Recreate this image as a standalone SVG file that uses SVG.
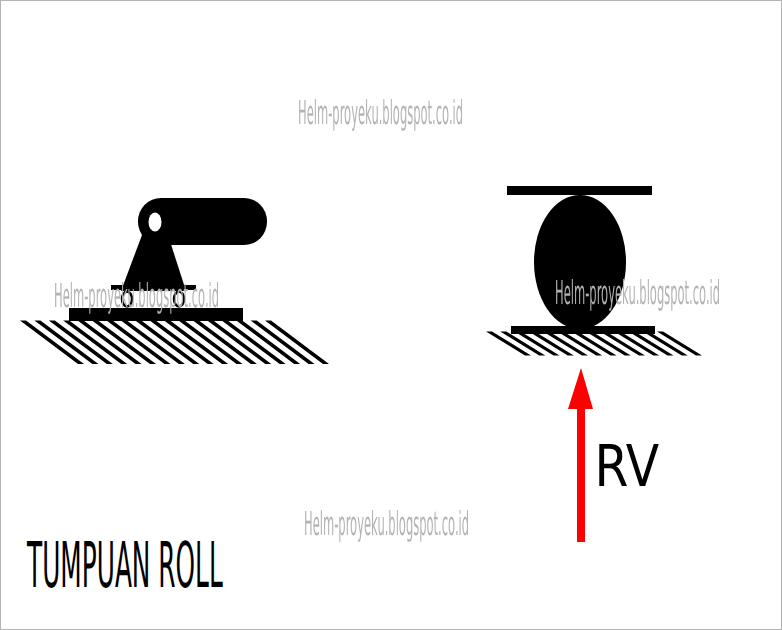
<svg xmlns="http://www.w3.org/2000/svg" width="782" height="630" viewBox="0 0 782 630">
<defs>
<style>
.wm{font-family:"DejaVu Sans",sans-serif;font-size:33px;fill:#b3b3b3;text-rendering:geometricPrecision}
.t{font-family:"DejaVu Sans",sans-serif;fill:#000;text-rendering:geometricPrecision}
</style>
</defs>
<rect x="0.5" y="0.5" width="781" height="629" fill="#fff" stroke="#b3b3b3"/>
<g id="left-ground">
<path d="M20 320.500h6l58 43.500h-6zM34.400 320.500h6l58 43.500h-6zM48.800 320.500h6l58 43.500h-6zM63.200 320.500h6l58 43.500h-6zM77.600 320.500h6l58 43.500h-6zM92 320.500h6l58 43.500h-6zM106.500 320.500h6l58 43.500h-6zM120.900 320.500h6l58 43.500h-6zM135.300 320.500h6l58 43.500h-6zM149.700 320.500h6l58 43.500h-6zM164.100 320.500h6l58 43.500h-6zM178.500 320.500h6l58 43.500h-6zM192.900 320.500h6l58 43.500h-6zM207.300 320.500h6l58 43.500h-6zM221.700 320.500h6l58 43.500h-6zM236.200 320.500h6l58 43.500h-6zM250.600 320.500h6l58 43.500h-6zM265 320.500h6l58 43.500h-6z"/>
</g>
<g id="left-support">
<rect x="69" y="308" width="174" height="13"/>
<rect x="111" y="285" width="85" height="5"/>
<path d="M142 235L168 235L186 291L121 291Z"/>
<rect x="138" y="198" width="129" height="47" rx="23" ry="23"/>
<ellipse cx="155" cy="222" rx="6.500" ry="9.500" fill="#fff"/>
<ellipse cx="127" cy="299" rx="5" ry="7.500" fill="#fff" stroke="#000" stroke-width="2.500"/>
<ellipse cx="179" cy="299" rx="5" ry="7.500" fill="#fff" stroke="#000" stroke-width="2.500"/>
</g>
<g id="right-ground">
<path d="M486 331.500h6l39 24h-6zM500.250 331.500h6l39 24h-6zM514.500 331.500h6l39 24h-6zM528.750 331.500h6l39 24h-6zM543 331.500h6l39 24h-6zM557.250 331.500h6l39 24h-6zM571.500 331.500h6l39 24h-6zM585.750 331.500h6l39 24h-6zM600 331.500h6l39 24h-6zM614.250 331.500h6l39 24h-6zM628.500 331.500h6l39 24h-6zM642.750 331.500h6l39 24h-6zM657 331.500h6l39 24h-6z"/>
</g>
<g id="right-support">
<rect x="507" y="186" width="145" height="9"/>
<ellipse cx="580" cy="262" rx="46" ry="67"/>
<rect x="511" y="326" width="144" height="8"/>
</g>
<g id="reaction">
<path d="M577 542V409H568L581 368L593 409H585V542Z" fill="#f00"/>
<text class="t" font-size="57.500" transform="translate(594.500 486) scale(0.85 1)">RV</text>
</g>
<text class="t" font-size="63" transform="translate(27 587) scale(0.394 1)">TUMPUAN ROLL</text>
<g id="watermarks" opacity="0.99">
<text class="wm" transform="translate(298 124) scale(0.349 1)">Helm-proyeku.blogspot.co.id</text>
<text class="wm" transform="translate(54 307) scale(0.349 1)">Helm-proyeku.blogspot.co.id</text>
<text class="wm" transform="translate(555 304) scale(0.349 1)">Helm-proyeku.blogspot.co.id</text>
<text class="wm" transform="translate(304 535) scale(0.349 1)">Helm-proyeku.blogspot.co.id</text>
</g>
</svg>
